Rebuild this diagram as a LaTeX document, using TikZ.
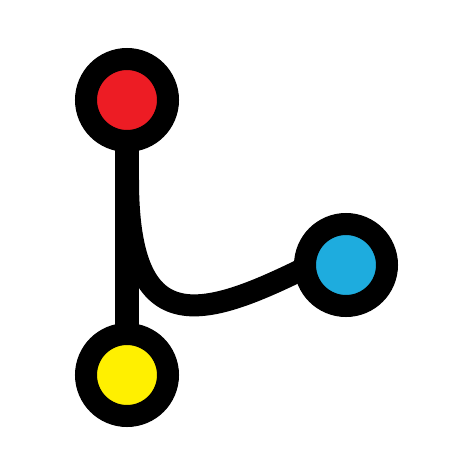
\documentclass[tikz,border=0pt]{standalone}
\usetikzlibrary{backgrounds}
\definecolor{dotred}{RGB}{237,28,36}
\definecolor{dotblue}{RGB}{30,172,222}
\definecolor{dotyellow}{RGB}{255,240,0}
\begin{document}
\begin{tikzpicture}[x=1pt,y=-1pt,
  dot/.style={circle,draw=black,line width=22pt,inner sep=0pt,minimum size=82pt},
  link/.style={draw=black,line width=23pt}]
\useasboundingbox (0,0) rectangle (474,474);
\node[dot,fill=dotred] (red) at (127,100) {};
\node[dot,fill=dotblue] (blue) at (346,265) {};
\node[dot,fill=dotyellow] (yellow) at (127,375) {};
\coordinate (branch) at (128,180);
\coordinate (bend1) at (128,345);
\coordinate (bend2) at (205,318);
\coordinate (blueend) at (315,263);
\begin{scope}[on background layer]
\fill[white] (0,0) rectangle (474,474);
\draw[link,line width=24pt] (red.center) -- (yellow.center);
\draw[link,line width=22pt] (branch) .. controls (bend1) and (bend2) .. (blueend);
\end{scope}
\end{tikzpicture}
\end{document}
